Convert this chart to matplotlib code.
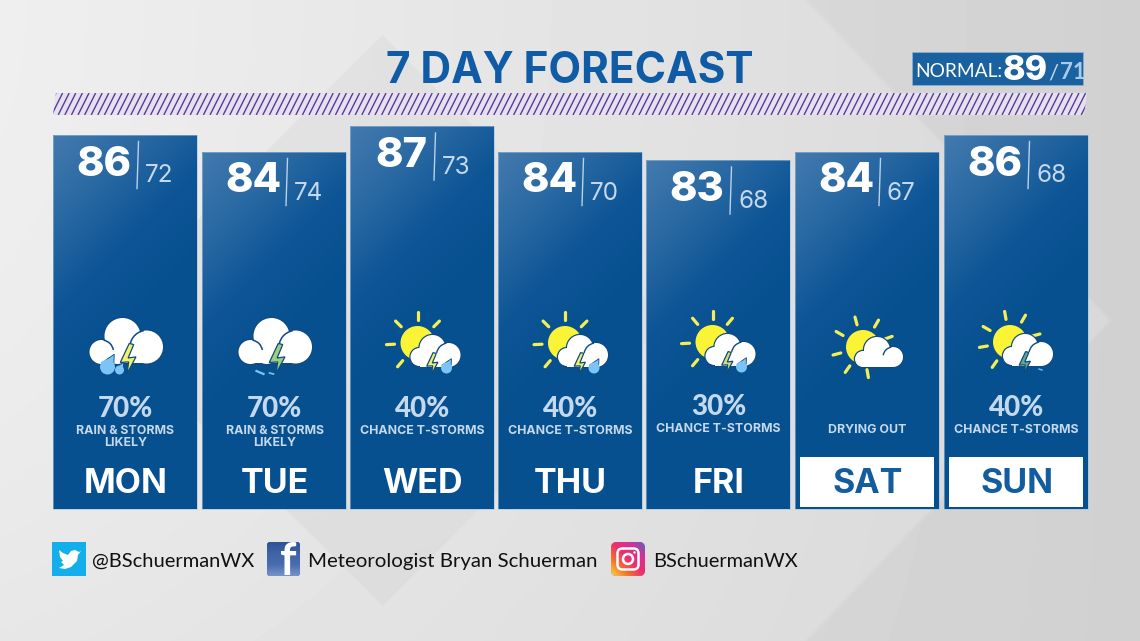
#!/usr/bin/env python3
'''
    7 day forecast graphic
'''
import numpy as np
import matplotlib
matplotlib.use('Agg')
import matplotlib.pyplot as plt
from matplotlib.collections import LineCollection
from matplotlib.colors import LinearSegmentedColormap
from matplotlib.patches import Arc, Circle, FancyBboxPatch, Polygon, Rectangle

# Datos
dias = ['MON', 'TUE', 'WED', 'THU', 'FRI', 'SAT', 'SUN']
maximas = [86, 84, 87, 84, 83, 84, 86]
minimas = [72, 74, 73, 70, 68, 67, 68]
lluvia = ['70%', '70%', '40%', '40%', '30%', '', '40%']
textos = [['RAIN & STORMS', 'LIKELY'], ['RAIN & STORMS', 'LIKELY'],
          ['CHANCE T-STORMS'], ['CHANCE T-STORMS'], ['CHANCE T-STORMS'],
          ['DRYING OUT'], ['CHANCE T-STORMS']]
iconos = ['nube', 'nube', 'sol', 'sol', 'sol', 'sol_seco', 'sol']
fin_semana = ['SAT', 'SUN']
normal_max = 89
normal_min = 71

FUENTE = ['Inter', 'DejaVu Sans']
FUENTE2 = ['Lato', 'DejaVu Sans']
AZUL = '#135c9e'
CLARO = '#c4d8ee'
OSCURO = '#0e4a80'

# Bordes de cada columna en pixeles
bordes_izq = [53, 202, 350, 498, 646, 795, 944]
ANCHO = 144
BASE_PX = 509

fig = plt.figure(figsize=(11.4, 6.41), dpi=100)

# Fondo: gradiente gris con dos rombos
fondo = fig.add_axes([0, 0, 1, 1])
fondo.set_axis_off()
yy, xx = np.mgrid[0:641, 0:1140]
gris = (0.935 - 0.09 * (xx / 1140.0) ** 1.1
        - 0.03 * (yy / 641.0) ** 2 * (1 - xx / 1140.0))
rombo1 = np.clip((287 - np.abs(xx - 382) - np.abs(yy - 320)) / 3.0, 0, 1)
gris = gris - 0.035 * rombo1 * np.clip(1.15 - xx / 900.0, 0.4, 1)
rombo2 = np.clip((1113 - xx - 0.95 * np.abs(yy - 320)) / 6.0, 0, 1)
gris = gris - 0.028 * (1 - rombo2)
fondo.imshow(gris, cmap='gray', vmin=0, vmax=1, extent=(0, 1140, 641, 0),
             aspect='auto', zorder=0)
fondo.set_xlim(0, 1140)
fondo.set_ylim(641, 0)

# Barras: eje en grados, 8.5 pixeles por grado
ax = fig.add_axes([0, 0, 1, 1], facecolor='none')
ax.set_axis_off()
PX_GRADO = 8.5
temp_en_px = 134.5 + 86 * PX_GRADO
limites_y = ((temp_en_px - 641) / PX_GRADO, temp_en_px / PX_GRADO)
base = (temp_en_px - BASE_PX) / PX_GRADO

mapa = LinearSegmentedColormap.from_list('barra',
                                         ['#437aae', '#2a69a3', '#0d5596',
                                          '#07508f'])
alturas = [m - base for m in maximas]
barras = ax.bar(bordes_izq, alturas, bottom=base, width=ANCHO, align='edge',
                color='#0b5394', zorder=2)
grad_y, grad_x = np.mgrid[0:1:200j, 0:1:100j]
for b in barras:
    alto_px = b.get_height() * PX_GRADO
    t = np.clip((grad_x * ANCHO + grad_y * alto_px) / 270.0, 0, 1)
    im = ax.imshow(t, cmap=mapa, vmin=0, vmax=1, aspect='auto', zorder=3,
                   extent=(b.get_x(), b.get_x() + ANCHO,
                           b.get_y(), b.get_y() + b.get_height()))
    im.set_clip_path(b)
ax.bar(bordes_izq, alturas, bottom=base, width=ANCHO, align='edge', fill=False,
       edgecolor='#9cc0de', linewidth=0.4, zorder=4)
ax.set_xlim(0, 1140)
ax.set_ylim(*limites_y)

# Capa en pixeles para textos e iconos
px = fig.add_axes([0, 0, 1, 1], facecolor='none')
px.set_axis_off()
px.set_xlim(0, 1140)
px.set_ylim(641, 0)


def nube(x0, y0, circulos, base_nube):
    '''Nube blanca hecha de circulos y una base recta'''
    izq, der, abajo = base_nube
    for (x, y, r) in circulos:
        px.add_patch(Circle((x0 + x, y0 + y), r + 1.2, fc=OSCURO, ec='none',
                            zorder=5.5))
    px.add_patch(Rectangle((x0 + izq, y0 + abajo - 10), der - izq, 11.2,
                           fc=OSCURO, ec='none', zorder=5.5))
    for (x, y, r) in circulos:
        px.add_patch(Circle((x0 + x, y0 + y), r, fc='white', ec='none',
                            zorder=6))
    px.add_patch(Rectangle((x0 + izq, y0 + abajo - 10), der - izq, 10,
                           fc='white', ec='none', zorder=6))


def rayo(cx, cy, esc, color):
    pts = [(2, -13), (-6, 4), (1.5, 3.5), (0, 14), (8, -1), (1, 0), (6, -12)]
    pts = [(cx + x * esc, cy + y * esc) for x, y in pts]
    px.add_patch(Polygon(pts, closed=True, fc=color, ec=OSCURO, lw=0.9,
                         zorder=7))


def gota(cx, cy, r, color='#7cc4f5'):
    px.add_patch(Polygon([(cx - r * 0.85, cy - r * 0.5),
                          (cx + r * 0.85, cy - r * 0.5),
                          (cx + r * 0.9, cy - r * 1.7)],
                         closed=True, fc=color, ec=OSCURO, lw=0.6, zorder=7))
    px.add_patch(Circle((cx, cy), r, fc=color, ec='none', zorder=7))


def sol(cx, cy, r, angulos):
    for a in angulos:
        ar = np.radians(a)
        x0, y0 = cx + (r + 6) * np.cos(ar), cy + (r + 6) * np.sin(ar)
        x1, y1 = cx + (r + 14) * np.cos(ar), cy + (r + 14) * np.sin(ar)
        px.plot([x0, x1], [y0, y1], color='#f5ee55', lw=2.3,
                solid_capstyle='round', zorder=5)
    px.add_patch(Circle((cx, cy), r, fc='#fbf335', ec='none', zorder=5))


color_rayo = ['#f3f06a', '#9ccf7e', '#f3f06a', '#f3f06a', '#cfe07a', None,
              '#5fa98c']
pos_sol = {'WED': (-5, 343), 'THU': (-5.5, 343), 'FRI': (-6, 342),
           'SAT': (-4.5, 347), 'SUN': (-6.5, 342)}
rayos_sol = {'WED': (-90, -45, -135, 177, 130),
             'THU': (-90, -45, -135, 177, 130),
             'FRI': (-90, -50, -130, 177, 130),
             'SAT': (-150, -105, -60, -20, 165, 125, 80),
             'SUN': (-100, -60, -150, 170, 125, -15)}


def icono(tipo, cx, idx):
    dia = dias[idx]
    if tipo == 'nube':
        nube(cx, 348, [(-3, -12, 18), (21, -1, 16.5), (-24, 4, 12),
                       (-8, 4, 12), (8, 4, 11)], (-24, 21, 14.5))
        px.add_patch(Arc((cx + 21, 347), 33, 33, theta1=175, theta2=260,
                         color=OSCURO, lw=1.1, zorder=6.5))
        px.add_patch(Arc((cx - 24, 352), 24, 24, theta1=280, theta2=350,
                         color=OSCURO, lw=1.1, zorder=6.5))
        rayo(cx + 1.5, 358, 1.12, color_rayo[idx])
        if dia == 'MON':
            gota(cx - 18, 367, 7.5)
            gota(cx - 6, 370, 4.5)
        else:
            px.plot([cx - 18, cx - 11], [371, 374], color='#7cc4f5', lw=1.6,
                    zorder=7)
            px.plot([cx - 5, cx - 1], [373, 374], color='#7cc4f5', lw=1.2,
                    zorder=7)
    else:
        scx = cx + pos_sol[dia][0]
        cy = pos_sol[dia][1]
        sol(scx, cy, 17, rayos_sol[dia])
        if tipo == 'sol':
            nube(scx, cy, [(2, 14, 9), (15, 5, 13), (31, 12, 12), (15, 14, 9)],
                 (2, 31, 24))
            px.add_patch(Arc((scx + 31, cy + 12), 24, 24, theta1=190, theta2=260,
                             color=OSCURO, lw=1.0, zorder=6.5))
            rayo(scx + 14, cy + 20, 0.8, color_rayo[idx])
            if dia != 'SUN':
                gota(scx + 29, cy + 25, 5.5)
            else:
                px.plot([scx + 29, scx + 32], [cy + 27, cy + 28],
                        color='#7cc4f5', lw=1.0, zorder=7)
        else:
            nube(scx, cy, [(0, 12, 8), (14, 3, 13), (30, 10, 10), (15, 12, 8)],
                 (0, 30, 20))
            px.add_patch(Arc((scx + 30, cy + 10), 20, 20, theta1=190, theta2=260,
                             color=OSCURO, lw=1.0, zorder=6.5))


# Ajustes verticales pequenos de cada columna
ajuste = [0, 0, 0, 0, -2, -1, -1]

for i, dia in enumerate(dias):
    izq = bordes_izq[i]
    cx = izq + ANCHO / 2.0 + 0.5
    arriba = 641 - ax.transData.transform((0, maximas[i]))[1]

    # Temperaturas
    px.text(izq + 51, arriba + 41, str(maximas[i]), color='white', fontsize=30,
            fontweight=800, family=FUENTE, ha='center', va='baseline',
            zorder=8)
    px.plot([izq + 85.5, izq + 84], [arriba + 7, arriba + 54], color='#b9d2ea',
            lw=1.0, zorder=8)
    px.text(izq + 92, arriba + 48, str(minimas[i]), color=CLARO, fontsize=17.5,
            family=FUENTE, ha='left', va='baseline', zorder=8)

    icono(iconos[i], cx, i)

    # Lluvia y descripcion
    if lluvia[i]:
        px.text(cx, 417 + ajuste[i], lluvia[i], color=CLARO, fontsize=20,
                fontweight=900, family=FUENTE2, ha='center', va='baseline',
                zorder=8)
    for j, linea in enumerate(textos[i]):
        px.text(cx, 434 + ajuste[i] + 11.5 * j, linea, color=CLARO, fontsize=8.9,
                fontweight='bold', family=FUENTE, ha='center', va='baseline',
                zorder=8)

    # Dia
    color_dia = 'white'
    if dia in fin_semana:
        px.add_patch(Rectangle((izq + 5, 457), ANCHO - 10, 49.5, fc='white',
                               ec='none', zorder=7))
        color_dia = AZUL
    px.text(cx, 493, dia, color=color_dia, fontsize=24.5, fontweight='bold',
            family=FUENTE, ha='center', va='baseline', zorder=8)

# Titulo
px.text(569.5, 83, '7 DAY FORECAST', color='#0f5ba5', fontsize=30.5,
        fontweight='bold', family=FUENTE, ha='center', va='baseline', zorder=8)

# Cuadro de normales
px.add_patch(Rectangle((912, 52), 171, 33, fc='#1a619f', ec='#8fb2d2', lw=0.5,
                       zorder=7))
px.text(915, 77, 'NORMAL:', color='white', fontsize=13.8, family=FUENTE2,
        ha='left', va='baseline', zorder=8)
px.text(1003, 80, str(normal_max), color='white', fontsize=24.5, fontweight=800,
        family=FUENTE, ha='left', va='baseline', zorder=8)
px.text(1048, 79, '/', color=CLARO, fontsize=16, family=FUENTE2, ha='left',
        va='baseline', zorder=8)
px.text(1060, 79, str(normal_min), color='#a8cbe8', fontsize=16,
        fontweight='bold', family=FUENTE2, ha='left', va='baseline', zorder=8)

# Banda rayada
banda = Polygon([(53, 115), (56, 93), (1087, 93), (1084, 115)], closed=True,
                fc='#e6e1ef', ec='none', zorder=2)
px.add_patch(banda)
rayas = [[(x, 115), (x + 11, 93)] for x in np.arange(45, 1090, 6.6)]
lc = LineCollection(rayas, colors='#5a3a96', linewidths=1.0, zorder=3)
px.add_collection(lc)
lc.set_clip_path(banda)

# Redes sociales
px.add_patch(Rectangle((52, 542), 34, 33.5, fc='#14aeea', ec='none', zorder=5))
px.add_patch(Polygon([(59, 550), (63, 553), (68, 555), (71, 551), (75, 550),
                      (79, 552), (81, 551), (78, 555), (77, 561), (71, 567),
                      (65, 569), (59, 568), (64, 565), (61, 562), (63, 561),
                      (60, 557)],
                     closed=True, fc='white', ec='none', zorder=6))
px.text(92, 567, '@BSchuermanWX', color='#111111', fontsize=14.5,
        family=FUENTE2, ha='left', va='baseline', zorder=8)

cuadro = FancyBboxPatch((267, 542), 33, 34, boxstyle='round,pad=0,rounding_size=3',
                        fc='#3b5a98', ec='none', zorder=5)
px.add_patch(cuadro)
y_grad = np.linspace(0, 1, 64).reshape(-1, 1)
im = px.imshow(y_grad, cmap=LinearSegmentedColormap.from_list(
    'fb', ['#2f5294', '#3f64a6', '#4a6cae', '#7594c8']),
    extent=(267, 300, 576, 542), aspect='auto', zorder=5)
im.set_clip_path(cuadro)
letra_f = px.text(288, 575, 'f', color='white', fontsize=33, fontweight='bold',
                  family=FUENTE2, ha='center', va='baseline', zorder=6)
letra_f.set_clip_path(cuadro)
px.text(308, 567, 'Meteorologist Bryan Schuerman', color='#111111',
        fontsize=14.7, family=FUENTE2, ha='left', va='baseline', zorder=8)

cuadro = FancyBboxPatch((611, 542), 34, 34, boxstyle='round,pad=0,rounding_size=6',
                        fc='#c13584', ec='none', zorder=5)
px.add_patch(cuadro)
g_y, g_x = np.mgrid[0:1:64j, 0:1:64j]
im = px.imshow(np.clip((g_x + (1 - g_y)) / 2.0, 0, 1),
               cmap=LinearSegmentedColormap.from_list(
                   'ig', ['#f9d44e', '#f07a2c', '#ee2f6c', '#d92f96', '#5a63c0']),
               extent=(611, 645, 576, 542), aspect='auto', zorder=5)
im.set_clip_path(cuadro)
px.add_patch(FancyBboxPatch((617.5, 548.5), 21, 21,
                            boxstyle='round,pad=0,rounding_size=5',
                            fc='none', ec='white', lw=1.8, zorder=6))
px.add_patch(Circle((628, 559), 5, fc='none', ec='white', lw=1.8, zorder=6))
px.add_patch(Circle((634.5, 552.5), 1.2, fc='white', ec='none', zorder=6))
px.text(653, 567, 'BSchuermanWX', color='#111111', fontsize=14.4,
        family=FUENTE2, ha='left', va='baseline', zorder=8)

px.set_xlim(0, 1140)
px.set_ylim(641, 0)

fig.savefig('out.png', dpi=100)
